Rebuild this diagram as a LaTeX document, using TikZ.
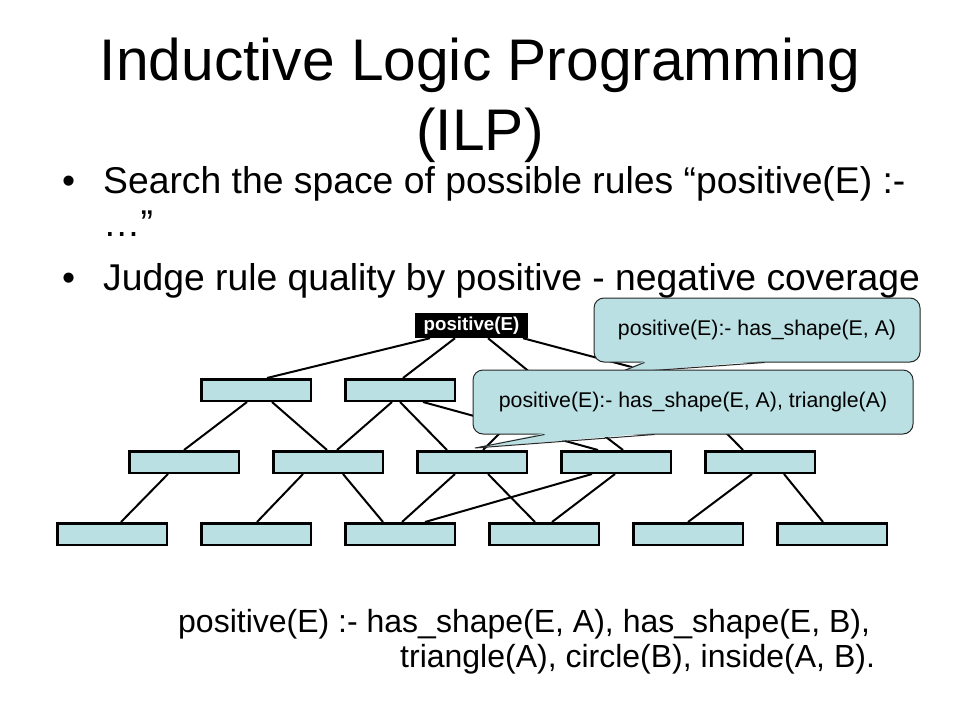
\documentclass[tikz,border=0pt]{standalone}
\usepackage{fontspec}
\setmainfont{Liberation Sans}
\definecolor{boxfill}{RGB}{187,224,227}
\definecolor{calloutline}{RGB}{40,40,40}
\begin{document}
\begin{tikzpicture}[x=1pt,y=-1pt,
  treebox/.style={draw=black, line width=2.5pt, fill=boxfill, minimum width=109.5pt, minimum height=21.5pt, inner sep=0pt},
  rootbox/.style={fill=black, text=white, font=\fontsize{18.7}{20}\selectfont\bfseries, minimum width=113pt, minimum height=25pt, inner sep=0pt},
  conn/.style={line width=2pt, black},
  callout/.style={draw=calloutline, line width=1pt, fill=boxfill, rounded corners=10pt, inner sep=0pt, font=\fontsize{21.3}{24}\selectfont},
  calledge/.style={draw=calloutline, line width=1pt, line join=miter},
  titletext/.style={font=\fontsize{58.7}{64}\selectfont, anchor=base, inner sep=0pt},
  bullettext/.style={font=\fontsize{37.3}{42}\selectfont, anchor=base west, inner sep=0pt},
  ruletext/.style={font=\fontsize{32}{36}\selectfont, inner sep=0pt}]
\useasboundingbox (0,0) rectangle (960,720);
\fill[white] (0,0) rectangle (960,720);

% title
\node[titletext] (t1) at (480,80) {Inductive Logic Programming};
\node[titletext] (t2) at (480,150) {(ILP)};

% bullets
\node[bullettext] (b1) at (62,193) {•};
\node[bullettext] (l1) at (103,193) {Search the space of possible rules “positive(E) :-};
\node[bullettext] (l1b) at (103,236) {…”};
\node[bullettext] (b2) at (62,290) {•};
\node[bullettext] (l2) at (103,290) {Judge rule quality by positive - negative coverage};

% tree
\node[rootbox] (R) at (471.5,325.5) {positive(E)};
\foreach \i/\x in {1/256,2/400,3/544,4/688} \node[treebox] (B\i) at (\x,390) {};
\foreach \i/\x in {1/184,2/328,3/472,4/616,5/760} \node[treebox] (C\i) at (\x,462) {};
\foreach \i/\x in {1/112,2/256,3/400,4/544,5/688,6/832} \node[treebox] (D\i) at (\x,534) {};

% root -> row 1
\draw[conn] ([xshift=-41.5pt]R.south) -- ([xshift=11pt]B1.north);
\draw[conn] ([xshift=-16.5pt]R.south) -- ([xshift=3pt]B2.north);
\draw[conn] ([xshift=16.5pt]R.south) -- ([xshift=-7pt]B3.north);
\draw[conn] ([xshift=51.5pt]R.south) -- ([xshift=-15pt]B4.north);
% row 1 -> row 2
\draw[conn] ([xshift=-9pt]B1.south) -- ([xshift=0pt]C1.north);
\draw[conn] ([xshift=16pt]B1.south) -- ([xshift=-1pt]C2.north);
\draw[conn] ([xshift=-8pt]B2.south) -- ([xshift=9pt]C2.north);
\draw[conn] ([xshift=0pt]B2.south) -- ([xshift=-25pt]C3.north);
\draw[conn] ([xshift=23pt]B2.south) -- ([xshift=-18pt]C4.north);
\draw[conn] ([xshift=-13pt]B3.south) -- ([xshift=11pt]C3.north);
\draw[conn] ([xshift=16pt]B3.south) -- ([xshift=7pt]C4.north);
\draw[conn] ([xshift=8pt]B4.south) -- ([xshift=-17pt]C5.north);
% row 2 -> row 3
\draw[conn] ([xshift=-16pt]C1.south) -- ([xshift=9pt]D1.north);
\draw[conn] ([xshift=-25pt]C2.south) -- ([xshift=1pt]D2.north);
\draw[conn] ([xshift=15pt]C2.south) -- ([xshift=-17pt]D3.north);
\draw[conn] ([xshift=-17pt]C3.south) -- ([xshift=2pt]D3.north);
\draw[conn] ([xshift=16pt]C3.south) -- ([xshift=-9pt]D4.north);
\draw[conn] ([xshift=25pt]D3.north) -- ([xshift=-24pt]C4.south);
\draw[conn] ([xshift=-1pt]C4.south) -- ([xshift=8pt]D4.north);
\draw[conn] ([xshift=-8pt]C5.south) -- ([xshift=0pt]D5.north);
\draw[conn] ([xshift=24pt]C5.south) -- ([xshift=-9pt]D6.north);

% callout 1
\node[callout, minimum width=326pt, minimum height=64pt] (K1) at (757,330) {positive(E):- has\_shape(E, A)};
\coordinate (k1tip) at (618,373);
\fill[boxfill] ([xshift=51pt,yshift=1.5pt]K1.south west) -- (k1tip) -- ([xshift=171pt,yshift=1.5pt]K1.south west) -- cycle;
\draw[calledge] ([xshift=51pt]K1.south west) -- (k1tip) -- ([xshift=171pt]K1.south west);

% callout 2
\node[callout, minimum width=440pt, minimum height=64pt] (K2) at (693,402) {positive(E):- has\_shape(E, A), triangle(A)};
\coordinate (k2tip) at (475,448);
\fill[boxfill] ([xshift=72pt,yshift=1.5pt]K2.south west) -- (k2tip) -- ([xshift=182pt,yshift=1.5pt]K2.south west) -- cycle;
\draw[calledge] ([xshift=72pt]K2.south west) -- (k2tip) -- ([xshift=182pt]K2.south west);

% rule text
\node[ruletext, anchor=base west] (r1) at (178,632) {positive(E) :- has\_shape(E, A), has\_shape(E, B),};
\node[ruletext, anchor=base west] (r2) at (400,667) {triangle(A), circle(B), inside(A, B).};
\end{tikzpicture}
\end{document}
